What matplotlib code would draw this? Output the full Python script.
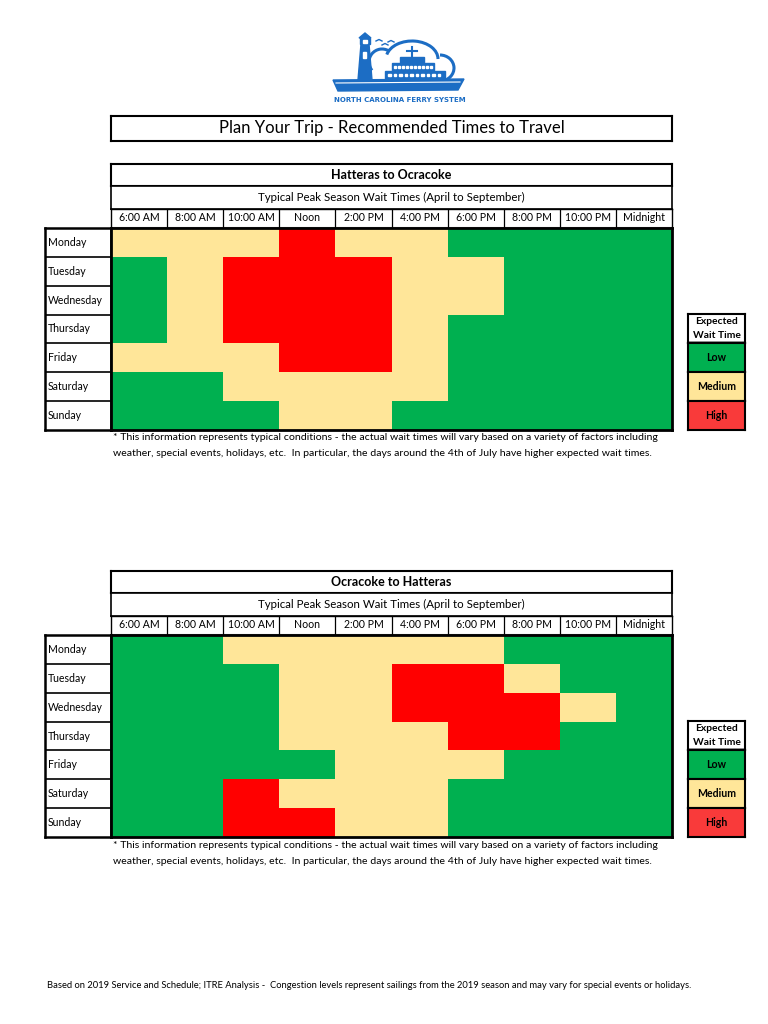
import numpy as np
import matplotlib.pyplot as plt
from matplotlib.colors import ListedColormap
from matplotlib.patches import Rectangle, Polygon, Arc

plt.rcParams['font.family'] = ['Lato', 'DejaVu Sans']

# chart data: 0 = Low, 1 = Medium, 2 = High
times = ['6:00 AM', '8:00 AM', '10:00 AM', 'Noon', '2:00 PM', '4:00 PM',
         '6:00 PM', '8:00 PM', '10:00 PM', 'Midnight']
days = ['Monday', 'Tuesday', 'Wednesday', 'Thursday', 'Friday', 'Saturday', 'Sunday']
levels = ['Low', 'Medium', 'High']

hatteras_to_ocracoke = [
    [1, 1, 1, 2, 1, 1, 0, 0, 0, 0],
    [0, 1, 2, 2, 2, 1, 1, 0, 0, 0],
    [0, 1, 2, 2, 2, 1, 1, 0, 0, 0],
    [0, 1, 2, 2, 2, 1, 0, 0, 0, 0],
    [1, 1, 1, 2, 2, 1, 0, 0, 0, 0],
    [0, 0, 1, 1, 1, 1, 0, 0, 0, 0],
    [0, 0, 0, 1, 1, 0, 0, 0, 0, 0],
]
ocracoke_to_hatteras = [
    [0, 0, 1, 1, 1, 1, 1, 0, 0, 0],
    [0, 0, 0, 1, 1, 2, 2, 1, 0, 0],
    [0, 0, 0, 1, 1, 2, 2, 2, 1, 0],
    [0, 0, 0, 1, 1, 1, 2, 2, 0, 0],
    [0, 0, 0, 0, 1, 1, 1, 0, 0, 0],
    [0, 0, 2, 1, 1, 1, 0, 0, 0, 0],
    [0, 0, 2, 2, 1, 1, 0, 0, 0, 0],
]

GREEN = '#00B050'
YELLOW = '#FFE699'
RED = '#FF0000'
BLUE = '#1C6DC4'
cmap = ListedColormap([GREEN, YELLOW, RED])

W, H = 768, 1024
fig = plt.figure(figsize=(W / 100, H / 100), dpi=100)


def box(x0, y0, x1, y1, lw=1.2):
    # axes placed with pixel coordinates (top-left origin)
    ax = fig.add_axes([x0 / W, 1 - y1 / H, (x1 - x0) / W, (y1 - y0) / H])
    ax.set_xticks([])
    ax.set_yticks([])
    ax.set_xlim(0, 1)
    ax.set_ylim(0, 1)
    for s in ax.spines.values():
        s.set_linewidth(lw)
        s.set_color('black')
    return ax


def text_box(x0, y0, x1, y1, txt, size, bold=False, lw=1.2, fc='white'):
    ax = box(x0, y0, x1, y1, lw)
    ax.set_facecolor(fc)
    ax.text(0.5, 0.5, txt, ha='center', va='center', fontsize=size,
            fontweight='bold' if bold else 'normal')
    return ax


def table(top, title, grid):
    left, right, lab_left = 111, 672, 45
    text_box(left, top, right, top + 22, title, 9, bold=True, lw=1.5)
    text_box(left, top + 22, right, top + 45, 'Typical Peak Season Wait Times (April to September)', 8.3)
    tax = box(left, top + 45, right, top + 64, lw=1.0)
    tax.set_xlim(0, len(times))
    tax.axhline(0.06, color='#888888', lw=0.8)
    for i, t in enumerate(times):
        tax.text(i + 0.5, 0.55, t, ha='center', va='center', fontsize=7.6)
        if i:
            tax.axvline(i, color='black', lw=0.9)
    hm_top = top + 64
    hm_bot = hm_top + 202
    # day labels
    dax = box(lab_left, hm_top, left, hm_bot, lw=1.8)
    dax.set_ylim(len(days), 0)
    for i, d in enumerate(days):
        dax.text(0.04, i + 0.5, d, ha='left', va='center', fontsize=7.6)
        if i:
            dax.axhline(i, color='black', lw=1.2)
    # heatmap
    ax = box(left, hm_top, right, hm_bot, lw=2.0)
    ax.pcolormesh(np.array(grid), cmap=cmap, vmin=-0.5, vmax=2.5)
    ax.set_xlim(0, len(times))
    ax.set_ylim(len(days), 0)
    # footnote
    fig.text(113 / W, 1 - (hm_bot + 8) / H,
             '* This information represents typical conditions - the actual wait times will vary based on a variety of factors including',
             fontsize=7.55, va='center')
    fig.text(113 / W, 1 - (hm_bot + 24) / H,
             'weather, special events, holidays, etc.  In particular, the days around the 4th of July have higher expected wait times.',
             fontsize=7.55, va='center')
    # legend
    lx0, lx1 = 688, 745
    lt = hm_bot - 116
    lax = box(lx0, lt, lx1, lt + 29, lw=1.5)
    lax.axhline(0.04, color='#888888', lw=1.2)
    lax.text(0.5, 0.74, 'Expected', ha='center', va='center', fontsize=7.4, fontweight='bold')
    lax.text(0.5, 0.27, 'Wait Time', ha='center', va='center', fontsize=7.4, fontweight='bold')
    for i, (lev, col) in enumerate(zip(levels, [GREEN, YELLOW, '#F93A3A'])):
        text_box(lx0, lt + 29 * (i + 1), lx1, lt + 29 * (i + 2), lev, 7.6, bold=True, lw=1.5, fc=col)


def logo():
    ax = fig.add_axes([330 / W, 1 - 108 / H, 140 / W, 78 / H])
    ax.set_xlim(0, 140)
    ax.set_ylim(78, 0)
    ax.axis('off')
    # cloud outline (y axis is flipped, so angles are negated)
    for (cx, cy, w, h, t1, t2) in [(52, 32, 26, 26, 60, 220), (82, 29, 52, 36, 0, 170),
                                   (110, 38, 28, 26, 275, 90)]:
        ax.add_patch(Arc((cx, cy), w, h, theta1=-t2, theta2=-t1, color=BLUE, lw=2.2))
    # lighthouse
    ax.add_patch(Polygon([[28, 50], [31, 14], [39, 14], [42, 50]], color=BLUE))
    ax.add_patch(Rectangle((30, 8), 10, 6, color=BLUE))
    ax.add_patch(Polygon([[29, 8], [35, 3], [41, 8]], color=BLUE))
    ax.add_patch(Rectangle((33, 9.5), 4, 3.5, color='white'))
    ax.add_patch(Rectangle((33, 22), 3, 6, color='white'))
    # birds
    for bx, by in [(46, 11), (52, 15), (58, 12)]:
        ax.plot([bx, bx + 3, bx + 6], [by, by - 1.5, by], color=BLUE, lw=1)
    # ferry
    ax.add_patch(Polygon([[3, 50], [134, 49], [128, 60], [8, 61]], color=BLUE))
    ax.add_patch(Rectangle((55, 41), 60, 8, color=BLUE))
    ax.add_patch(Rectangle((62, 33), 42, 8, color=BLUE))
    ax.add_patch(Rectangle((70, 27), 24, 6, color=BLUE))
    ax.plot([82, 82], [17, 27], color=BLUE, lw=1.5)
    ax.plot([77, 87], [21, 21], color=BLUE, lw=1.5)
    ax.plot([6, 130], [53, 52], color='white', lw=0.8)
    for k in range(10):
        ax.add_patch(Rectangle((64 + 4 * k, 36), 2, 2, color='white'))
        ax.add_patch(Rectangle((58 + 5.5 * k, 44), 2.5, 2, color='white'))
    ax.text(70, 70, 'NORTH CAROLINA FERRY SYSTEM', ha='center', va='center',
            fontsize=5.0, fontweight='bold', color=BLUE, family='DejaVu Sans')


logo()
text_box(111, 116, 672, 141, 'Plan Your Trip - Recommended Times to Travel', 12, lw=1.5)
table(164, 'Hatteras to Ocracoke', hatteras_to_ocracoke)
table(571, 'Ocracoke to Hatteras', ocracoke_to_hatteras)
fig.text(47 / W, 1 - 986 / H,
         'Based on 2019 Service and Schedule; ITRE Analysis -  Congestion levels represent sailings from the 2019 season and may vary for special events or holidays.',
         fontsize=6.75, va='center')

fig.savefig('out.png', dpi=100)
